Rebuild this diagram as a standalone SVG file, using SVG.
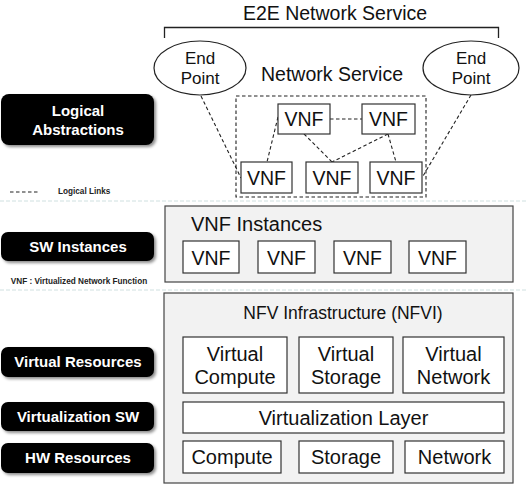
<svg xmlns="http://www.w3.org/2000/svg" width="532" height="496" viewBox="0 0 532 496">
<defs>
<filter id="sh" x="-10%" y="-20%" width="125%" height="150%">
<feDropShadow dx="2" dy="2" stdDeviation="1.5" flood-color="#000" flood-opacity="0.45"/>
</filter>
</defs>
<style>
text{font-family:"Liberation Sans",Arial,sans-serif;fill:#111}
.t{font-size:19.5px;text-anchor:middle}
.lab{font-size:15px;font-weight:bold;fill:#fff;text-anchor:middle}
.lb{fill:#000;filter:url(#sh)}
.box{fill:#fff;stroke:#333;stroke-width:1.2}
.panel{fill:#f2f2f2;stroke:#444;stroke-width:1.2}
.dl{fill:none;stroke:#222;stroke-width:1.1;stroke-dasharray:3.5,2.5}
.sep{fill:none;stroke:#cfe0e0;stroke-width:1;stroke-dasharray:4,2}
.sm{font-size:8.2px;font-weight:bold;fill:#222}
</style>
<rect width="532" height="496" fill="#fff"/>

<g id="separators">
<line class="sep" x1="0" y1="201" x2="528" y2="201"/>
<line class="sep" x1="0" y1="290" x2="528" y2="290"/>
</g>

<g id="labels">
<g id="lbl-logical"><rect class="lb" x="1" y="94" width="153" height="51" rx="8"/>
<text class="lab" x="78" y="116">Logical</text><text class="lab" x="78" y="135">Abstractions</text></g>
<g id="lbl-sw"><rect class="lb" x="1" y="232" width="153" height="29" rx="7"/>
<text class="lab" x="78" y="252">SW Instances</text></g>
<g id="lbl-vr"><rect class="lb" x="1" y="347" width="153" height="30" rx="7"/>
<text class="lab" x="78" y="367">Virtual Resources</text></g>
<g id="lbl-vsw"><rect class="lb" x="1" y="402" width="153" height="29" rx="7"/>
<text class="lab" x="78" y="422">Virtualization SW</text></g>
<g id="lbl-hw"><rect class="lb" x="1" y="443" width="153" height="30" rx="7"/>
<text class="lab" x="78" y="463">HW Resources</text></g>
</g>

<g id="legend">
<line class="dl" x1="10" y1="192" x2="38" y2="192" stroke-dasharray="3,2.5"/>
<text class="sm" x="58" y="194">Logical Links</text>
<text class="sm" x="79" y="284" text-anchor="middle">VNF : Virtualized Network Function</text>
</g>

<g id="e2e">
<text class="t" x="335" y="20">E2E Network Service</text>
<path d="M164.5 38 V27.5 H498.5 V38" fill="none" stroke="#222" stroke-width="1.3"/>
</g>

<g id="endpoint-left"><ellipse cx="200" cy="68" rx="46" ry="27" fill="#fff" stroke="#222" stroke-width="1.2"/>
<text class="t" x="200" y="64" style="font-size:17px">End</text><text class="t" x="200" y="84" style="font-size:17px">Point</text></g>
<g id="endpoint-right"><ellipse cx="471" cy="68" rx="48" ry="27" fill="#fff" stroke="#222" stroke-width="1.2"/>
<text class="t" x="471" y="64" style="font-size:17px">End</text><text class="t" x="471" y="84" style="font-size:17px">Point</text></g>

<g id="network-service">
<text class="t" x="332" y="81">Network Service</text>
<rect class="dl" x="236" y="96" width="190" height="101" stroke-width="1.2"/>
</g>

<g id="connectors">
<line class="dl" x1="201" y1="96" x2="241" y2="178"/>
<line class="dl" x1="471" y1="95" x2="423" y2="176"/>
<line class="dl" x1="330" y1="119" x2="362" y2="119"/>
<line class="dl" x1="278" y1="117" x2="267" y2="162"/>
<line class="dl" x1="304" y1="134" x2="332" y2="162"/>
<line class="dl" x1="388" y1="134" x2="332" y2="162"/>
<line class="dl" x1="388" y1="134" x2="396" y2="162"/>
</g>

<g id="vnf-a"><rect class="box" x="278" y="104" width="52" height="30"/><text class="t" x="304" y="126">VNF</text></g>
<g id="vnf-b"><rect class="box" x="362" y="104" width="53" height="30"/><text class="t" x="388.5" y="126">VNF</text></g>
<g id="vnf-c"><rect class="box" x="241" y="162" width="51" height="31"/><text class="t" x="266.5" y="185">VNF</text></g>
<g id="vnf-d"><rect class="box" x="306" y="162" width="52" height="31"/><text class="t" x="332" y="185">VNF</text></g>
<g id="vnf-e"><rect class="box" x="370" y="162" width="52" height="31"/><text class="t" x="396" y="185">VNF</text></g>

<g id="vnf-instances">
<rect class="panel" x="165" y="206" width="348" height="76"/>
<text class="t" x="191" y="231" style="text-anchor:start;font-size:20px">VNF Instances</text>
<rect class="box" x="183" y="241" width="56" height="32"/><text class="t" x="211" y="265">VNF</text>
<rect class="box" x="258" y="241" width="57" height="32"/><text class="t" x="286.5" y="265">VNF</text>
<rect class="box" x="334" y="241" width="57" height="32"/><text class="t" x="362.5" y="265">VNF</text>
<rect class="box" x="409" y="241" width="57" height="32"/><text class="t" x="437.5" y="265">VNF</text>
</g>

<g id="nfvi">
<rect class="panel" x="164" y="293" width="349" height="190"/>
<text class="t" x="343" y="319" style="font-size:17.5px">NFV Infrastructure (NFVI)</text>
<g id="vcompute"><rect class="box" x="183" y="337" width="104" height="56"/><text class="t" x="235" y="361" style="font-size:20px">Virtual</text><text class="t" x="235" y="384" style="font-size:20px">Compute</text></g>
<g id="vstorage"><rect class="box" x="299" y="337" width="94" height="56"/><text class="t" x="346" y="361" style="font-size:20px">Virtual</text><text class="t" x="346" y="384" style="font-size:20px">Storage</text></g>
<g id="vnetwork"><rect class="box" x="403" y="337" width="101" height="56"/><text class="t" x="453.5" y="361" style="font-size:20px">Virtual</text><text class="t" x="453.5" y="384" style="font-size:20px">Network</text></g>
<g id="vlayer"><rect class="box" x="183" y="402" width="321" height="31"/><text class="t" x="343.5" y="425" style="font-size:20px">Virtualization Layer</text></g>
<g id="compute"><rect class="box" x="183" y="441" width="98" height="32"/><text class="t" x="232" y="464" style="font-size:20px">Compute</text></g>
<g id="storage"><rect class="box" x="299" y="441" width="94" height="32"/><text class="t" x="346" y="464" style="font-size:20px">Storage</text></g>
<g id="network"><rect class="box" x="405" y="441" width="99" height="32"/><text class="t" x="454.5" y="464" style="font-size:20px">Network</text></g>
</g>
</svg>
